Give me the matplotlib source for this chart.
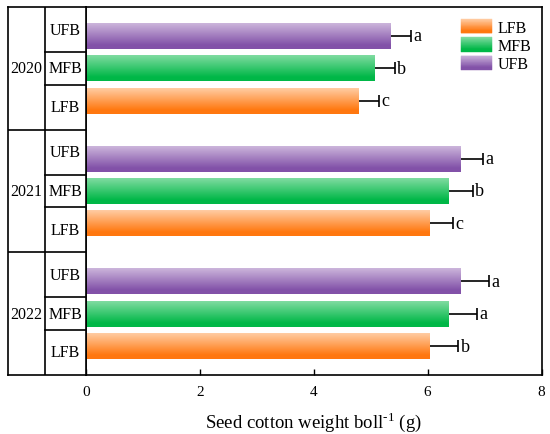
import numpy as np
import matplotlib
matplotlib.use("Agg")
import matplotlib.pyplot as plt
from matplotlib.legend_handler import HandlerBase
from matplotlib.patches import Rectangle, Patch

plt.rcParams['font.family'] = ['Liberation Serif', 'DejaVu Serif']
plt.rcParams['mathtext.fontset'] = 'custom'
plt.rcParams['mathtext.rm'] = 'Liberation Serif'

# ---------------- data ----------------
years = ['2022', '2021', '2020']          # bottom -> top
positions = ['LFB', 'MFB', 'UFB']        # bottom -> top within a year
LFB = [6.03, 6.03, 4.78]
MFB = [6.37, 6.37, 5.07]
UFB = [6.58, 6.58, 5.35]
LFB_err = [0.51, 0.41, 0.36]
MFB_err = [0.50, 0.42, 0.35]
UFB_err = [0.50, 0.40, 0.36]
LFB_sig = ['b', 'c', 'c']
MFB_sig = ['a', 'b', 'b']
UFB_sig = ['a', 'a', 'a']
xticks = [0, 2, 4, 6, 8]

# ---------------- styling ----------------
grad = {
    'LFB': ((1.00, 0.80, 0.64), (1.00, 0.47, 0.06)),
    'MFB': ((0.50, 0.86, 0.63), (0.00, 0.72, 0.28)),
    'UFB': ((0.80, 0.71, 0.86), (0.51, 0.32, 0.66)),
}

def grad_img(top, bottom, n=64):
    t = np.linspace(0, 1, n)[:, None]
    f = np.clip(t / 0.85, 0, 1)
    c = np.array(top)[None, :] * (1 - f) + np.array(bottom)[None, :] * f
    return c[:, None, :]

G = 3.785
m = 0.8925
bar_h = 0.8

W, H = 550, 435
fig = plt.figure(figsize=(W / 100, H / 100), dpi=100)
ax_left, ax_right, ax_top, ax_bot = 86, 541.5, 8, 376
ax = fig.add_axes([ax_left / W, (H - ax_bot) / H, (ax_right - ax_left) / W, (ax_bot - ax_top) / H])
tax = fig.add_axes([8 / W, (H - ax_bot) / H, (ax_left - 8) / W, (ax_bot - ax_top) / H])

series = [('LFB', LFB, LFB_err, LFB_sig), ('MFB', MFB, MFB_err, MFB_sig), ('UFB', UFB, UFB_err, UFB_sig)]
for p, (name, vals, errs, sigs) in enumerate(series):
    ys = [k * G + m + p for k in range(len(years))]
    ax.errorbar(vals, ys, xerr=errs, fmt='none', ecolor='black', elinewidth=1.2,
                capsize=4.6, capthick=1.2, zorder=1)
    bars = ax.barh(ys, vals, height=bar_h, color='none', edgecolor='none', zorder=2)
    top, bottom = grad[name]
    img = grad_img(top, bottom)
    for b in bars:
        x0, y0, w, h = b.get_x(), b.get_y(), b.get_width(), b.get_height()
        ax.imshow(img, extent=[x0, x0 + w, y0, y0 + h], aspect='auto', zorder=2,
                  interpolation='bilinear')
    for v, e, y, s in zip(vals, errs, ys, sigs):
        ax.text(v + e + 0.04, y, s, ha='left', va='center', fontsize=13)

ax.set_xlim(0, 8)
ax.set_ylim(0, 3 * G)
ax.set_xticks(xticks)
ax.set_xticklabels([str(t) for t in xticks], fontsize=11)
ax.set_yticks([])
ax.tick_params(axis='x', direction='in', length=4, width=1.0, pad=7)
for s in ax.spines.values():
    s.set_linewidth(1.2)
ax.set_xlabel('Seed cotton weight boll$^{\\text{-1}}$ (g)', fontsize=13.5, labelpad=8)

# legend with gradient handles
class GradHandler(HandlerBase):
    def __init__(self, top, bottom):
        super().__init__()
        self.top, self.bottom = top, bottom

    def create_artists(self, legend, orig_handle, xdescent, ydescent, width, height, fontsize, trans):
        n = 24
        img = grad_img(self.top, self.bottom, n)
        arts = []
        for i in range(n):
            c = img[i, 0]
            y = -ydescent + height * (1 - (i + 1) / n)
            arts.append(Rectangle((-xdescent, y), width, height / n, facecolor=c,
                                  edgecolor=c, lw=0.3, transform=trans))
        return arts

handles = [Patch(label=n) for n in positions]
hmap = {h: GradHandler(*grad[n]) for h, n in zip(handles, positions)}
ax.legend(handles=handles, handler_map=hmap, loc='upper right', bbox_to_anchor=(0.998, 0.993),
          frameon=False, fontsize=11.5, handlelength=1.95, handleheight=1.0,
          labelspacing=0.1, handletextpad=0.33, borderaxespad=0.2)

# left table
tax.set_xlim(0, ax_left - 8)
tax.set_ylim(0, 3 * G)
tax.set_xticks([])
tax.set_yticks([])
for s in tax.spines.values():
    s.set_linewidth(1.2)
xmid = 37
tax.axvline(xmid, color='black', lw=1.2)
for k in range(1, len(years)):
    tax.axhline(k * G, color='black', lw=1.2)
for k, yr in enumerate(years):
    tax.text(xmid / 2, k * G + G / 2, yr, ha='center', va='center', fontsize=11.5)
    b1 = k * G + m + 0.5
    b2 = k * G + m + 1.5
    tax.plot([xmid, ax_left - 8], [b1, b1], color='black', lw=1.2)
    tax.plot([xmid, ax_left - 8], [b2, b2], color='black', lw=1.2)
    cells = [(k * G, b1), (b1, b2), (b2, (k + 1) * G)]
    for (lo, hi), name in zip(cells, positions):
        tax.text((xmid + ax_left - 8) / 2, (lo + hi) / 2, name, ha='center', va='center', fontsize=11.5)

fig.savefig('out.png', dpi=100)
